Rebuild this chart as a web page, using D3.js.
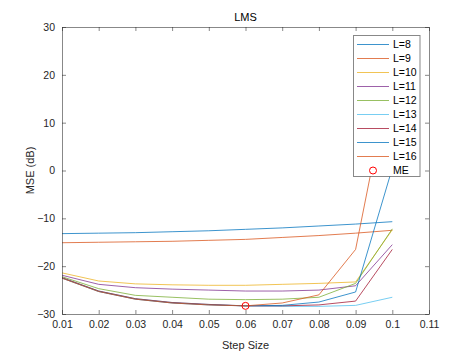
<!DOCTYPE html>
<html><head><meta charset="utf-8">
<script src="https://cdn.jsdelivr.net/npm/d3@7"></script>
<style>body{margin:0;background:#fff;} svg{display:block;font-family:"Liberation Sans",Arial,sans-serif;}</style>
</head><body>
<svg id="c" width="474" height="355"></svg>
<script>
const stepSizes = [0.01,0.02,0.03,0.04,0.05,0.06,0.07,0.08,0.09,0.1];
const seriesNames = ["L=8","L=9","L=10","L=11","L=12","L=13","L=14","L=15","L=16"];
const L8  = [-13.2,-13.1,-13.0,-12.8,-12.6,-12.3,-12.0,-11.6,-11.2,-10.7];
const L9  = [-15.1,-15.0,-14.9,-14.8,-14.6,-14.4,-14.0,-13.6,-13.1,-12.5];
const L10 = [-21.4,-23.1,-23.7,-23.9,-24.0,-24.0,-23.8,-23.6,-23.3,-12.4];
const L11 = [-21.9,-23.8,-24.5,-24.8,-25.0,-25.2,-25.2,-25.0,-24.1,-15.5];
const L12 = [-22.2,-24.7,-26.1,-26.5,-26.9,-27.0,-26.9,-26.5,-23.6,-12.2];
const L13 = [-22.4,-25.2,-26.8,-27.6,-28.0,-28.3,-28.4,-28.4,-28.2,-26.5];
const L14 = [-22.4,-25.2,-26.8,-27.6,-28.0,-28.3,-28.3,-28.1,-27.3,-16.5];
const L15 = [-22.5,-25.3,-26.9,-27.7,-28.1,-28.3,-28.2,-27.5,-25.4,0.5];
const L16 = [-22.5,-25.3,-26.9,-27.7,-28.1,-28.3,-27.7,-26.0,-16.5,22.0];
const seriesValues = [L8,L9,L10,L11,L12,L13,L14,L15,L16];
const colors = ["#0072BD","#D95319","#EDB120","#7E2F8E","#77AC30","#4DBEEE","#A2142F","#0072BD","#D95319"];
const minErrorPoint = [0.06, -28.3];
const xTicks = [0.01,0.02,0.03,0.04,0.05,0.06,0.07,0.08,0.09,0.1,0.11];
const yTicks = [-30,-20,-10,0,10,20,30];

const svg = d3.select("#c");
const L = 62, R = 429, T = 27, B = 314;
const x = d3.scaleLinear().domain([0.01,0.11]).range([L,R]);
const y = d3.scaleLinear().domain([-30,30]).range([B,T]);
const axisCol = "#262626";
const fmt = d => d3.format("")(+d.toFixed(2));

svg.append("defs").append("clipPath").attr("id","clip")
  .append("rect").attr("x",L).attr("y",T).attr("width",R-L).attr("height",B-T);

const g = svg.append("g").attr("clip-path","url(#clip)");
const line = d3.line().x((d,i)=>x(stepSizes[i])).y(d=>y(d));
seriesValues.forEach((vals,k)=>{
  g.append("path").attr("d",line(vals)).attr("fill","none")
   .attr("stroke",colors[k]).attr("stroke-width",0.9).attr("stroke-opacity",0.85);
});
svg.append("circle").attr("cx",x(minErrorPoint[0])).attr("cy",y(minErrorPoint[1]))
  .attr("r",3.5).attr("fill","none").attr("stroke","#FF0000").attr("stroke-width",1);

// axes
const styleAxis = sel => {
  sel.selectAll("path").attr("stroke",axisCol).attr("stroke-width",1).attr("opacity",0.55);
  sel.selectAll("line").attr("stroke",axisCol).attr("opacity",0.55);
  sel.selectAll("text").attr("fill",axisCol).attr("font-size","10.5px").attr("font-family","Liberation Sans, Arial, sans-serif");
};
svg.append("g").attr("transform",`translate(0,${B})`)
  .call(d3.axisBottom(x).tickValues(xTicks).tickFormat(fmt).tickSizeInner(-4).tickSizeOuter(0).tickPadding(7))
  .call(styleAxis);
svg.append("g").attr("transform",`translate(${L},0)`)
  .call(d3.axisLeft(y).tickValues(yTicks).tickSizeInner(-4).tickSizeOuter(0).tickPadding(7))
  .call(styleAxis);
svg.append("g").attr("transform",`translate(0,${T})`)
  .call(d3.axisTop(x).tickValues(xTicks).tickFormat("").tickSizeInner(-4).tickSizeOuter(0))
  .call(styleAxis);
svg.append("g").attr("transform",`translate(${R},0)`)
  .call(d3.axisRight(y).tickValues(yTicks).tickFormat("").tickSizeInner(-4).tickSizeOuter(0))
  .call(styleAxis);

// labels
svg.append("text").attr("x",(L+R)/2).attr("y",21).attr("text-anchor","middle")
  .attr("font-size","11px").attr("fill","#000").text("LMS");
svg.append("text").attr("x",(L+R)/2).attr("y",349).attr("text-anchor","middle")
  .attr("font-size","11px").attr("fill",axisCol).text("Step Size");
svg.append("text").attr("transform",`translate(34,${(T+B)/2}) rotate(-90)`).attr("text-anchor","middle")
  .attr("font-size","11px").attr("fill",axisCol).text("MSE (dB)");

// legend
const lg = svg.append("g");
lg.append("rect").attr("x",353.5).attr("y",35.5).attr("width",66.5).attr("height",141)
  .attr("fill","#fff").attr("stroke",axisCol).attr("stroke-opacity",0.55).attr("stroke-width",1);
const rowY = i => 44.5 + i*14;
seriesNames.forEach((n,i)=>{
  lg.append("line").attr("x1",357).attr("x2",389).attr("y1",rowY(i)).attr("y2",rowY(i))
    .attr("stroke",colors[i]).attr("stroke-width",0.9).attr("stroke-opacity",0.85);
  lg.append("text").attr("x",393).attr("y",rowY(i)+3.5).attr("font-size","10.5px").attr("fill","#000").text(n);
});
lg.append("circle").attr("cx",373).attr("cy",rowY(9)).attr("r",3.5).attr("fill","none").attr("stroke","#FF0000");
lg.append("text").attr("x",393).attr("y",rowY(9)+3.5).attr("font-size","10.5px").attr("fill","#000").text("ME");
</script>
</body></html>
